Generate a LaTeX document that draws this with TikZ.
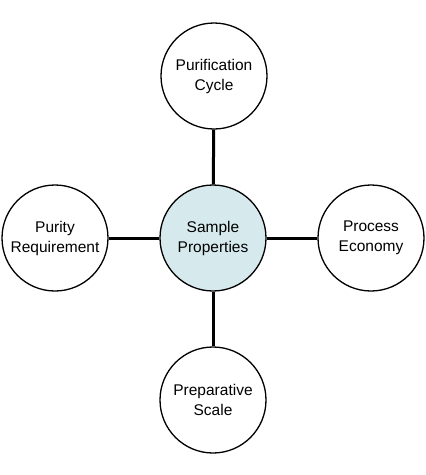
\documentclass[tikz,border=0pt]{standalone}
\usepackage{fontspec}
\setmainfont{Liberation Sans}
\usepackage{tikz}
\usetikzlibrary{calc,positioning}
\definecolor{centrefill}{RGB}{214,234,238}
\tikzset{
  bubble/.style={circle,draw,line width=1.3pt,fill=white,minimum size=106pt,inner sep=0pt,align=center,font=\fontsize{15.5}{20}\selectfont},
  spoke/.style={line width=3pt}
}
\begin{document}
\begin{tikzpicture}[x=1pt,y=-1pt]
\useasboundingbox (0,0) rectangle (426,475);
\node[bubble,fill=centrefill] (c) at (213,238) {Sample\\Properties};
\node[bubble] (t) at (214,76) {Purification\\Cycle};
\node[bubble] (l) at (55,238) {Purity\\Requirement};
\node[bubble] (r) at (371,238) {Process\\Economy};
\node[bubble] (b) at (213,400) {Preparative\\Scale};
\draw[spoke] (c) -- (t);
\draw[spoke] (c) -- (l);
\draw[spoke] (c) -- (r);
\draw[spoke] (c) -- (b);
\end{tikzpicture}
\end{document}
